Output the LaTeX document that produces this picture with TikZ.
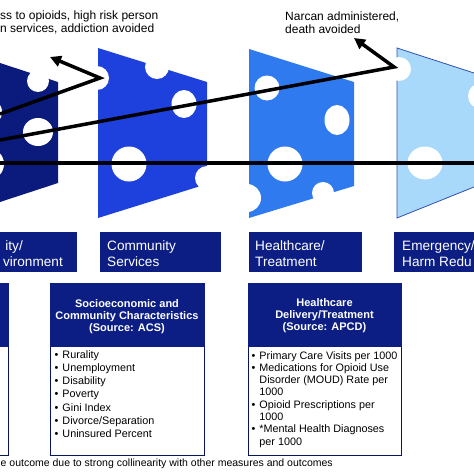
\documentclass[tikz,border=0pt]{standalone}
\usepackage{fontspec}
\setmainfont{Liberation Sans}
\usetikzlibrary{arrows.meta}
\definecolor{navy}{RGB}{12,30,132}
\definecolor{slicea}{RGB}{10,26,125}
\definecolor{sliceb}{RGB}{30,64,220}
\definecolor{slicec}{RGB}{48,122,240}
\definecolor{sliced}{RGB}{168,216,250}
\definecolor{sliceline}{RGB}{50,80,180}
\begin{document}
\begin{tikzpicture}[x=1pt,y=-1pt,
  hole/.style={fill=white},
  ray/.style={line width=3.5pt, line join=miter, draw=black},
  tip/.style={-{Triangle[length=11pt,width=11pt]}},
  labelbox/.style={fill=navy, anchor=north west, inner sep=0, outer sep=0, minimum height=40pt},
  labeltext/.style={inner sep=0, text=white, font=\fontsize{13.6}{16}\selectfont},
  headbox/.style={fill=navy, draw=navy, line width=1pt, anchor=north west, inner sep=0, minimum height=63pt},
  bodybox/.style={draw=navy!70!black, line width=1pt, fill=white, anchor=north west, inner sep=0, minimum height=172pt},
  headtext/.style={inner sep=0, text=white, font=\bfseries\fontsize{11}{12}\selectfont},
  listtext/.style={inner sep=0, anchor=base west},
  note/.style={inner sep=0, anchor=base west, font=\fontsize{12}{14}\selectfont}]
\useasboundingbox (0,0) rectangle (474,474);
\clip (0,0) rectangle (474,474);

% slices
\fill[slicea] (0,63) -- (58,82) -- (58,183) -- (0,202) -- cycle;
\fill[sliceb] (98,48) -- (207,82) -- (207,184) -- (98,218) -- cycle;
\fill[slicec] (249,49) -- (354,82) -- (354,186) -- (249,218) -- cycle;
\fill[sliced] (397,48) -- (474,73) -- (474,187) -- (397,218) -- cycle;
\draw[sliceline, line width=0.8pt] (474,73) -- (397,48) -- (397,218) -- (474,187);

% holes
\fill[hole] (38,81) circle[radius=11pt];
\fill[hole] (38,132) circle[x radius=15pt, y radius=14pt];
\fill[hole] (-12,112) circle[radius=14pt];
\fill[hole] (-12,164) circle[radius=16pt];
\fill[hole] (97,78) circle[radius=12pt];
\fill[hole] (157,67) circle[radius=12pt];
\fill[hole] (184,104) circle[x radius=12.5pt, y radius=14pt];
\fill[hole] (129,164) circle[radius=17.5pt];
\fill[hole] (207,178) circle[radius=12pt];
\fill[hole] (267,88) circle[radius=12.5pt];
\fill[hole] (337,120) circle[x radius=12.5pt, y radius=15pt];
\fill[hole] (285,164) circle[radius=17.5pt];
\fill[hole] (247,198) circle[radius=14pt];
\fill[hole] (323,193) circle[radius=11pt];
\fill[hole] (399,69) circle[radius=12pt];
\fill[hole] (481,96) circle[radius=13pt];
\fill[hole] (425,163) circle[x radius=17.5pt, y radius=16.5pt];

% trajectories
\coordinate (l1a) at (0,163);
\coordinate (l1b) at (474,163);
\coordinate (l2a) at (0,140);
\coordinate (l2v) at (394,67);
\coordinate (l2t) at (354,38);
\coordinate (l3a) at (0,114);
\coordinate (l3v) at (100,78);
\coordinate (l3t) at (50,57);
\draw[ray, line width=4pt] (l1a) -- (l1b);
\draw[ray, tip] (l2a) -- (l2v) -- (l2t);
\draw[ray, tip] (l3a) -- (l3v) -- (l3t);

% annotations
\node[note] (n1) at (0,19.5) {ss to opioids, high risk person};
\node[note] (n2) at (0,32.5) {n services, addiction avoided};
\node[note] (n3) at (285,20) {Narcan administered,};
\node[note] (n4) at (285,33) {death avoided};

% layer labels
\node[labelbox, minimum width=90pt] (lb1) at (-13,232) {};
\node[labelbox, minimum width=121pt] (lb2) at (100,232) {};
\node[labelbox, minimum width=113pt] (lb3) at (249,232) {};
\node[labelbox, minimum width=90pt] (lb4) at (394,232) {};
\node[labeltext, anchor=base east] (t1a) at (23,250) {ity/};
\node[labeltext, anchor=base east] (t1b) at (63,266) {vironment};
\node[labeltext, anchor=base west] (t2a) at (107,250) {Community};
\node[labeltext, anchor=base west] (t2b) at (107,266) {Services};
\node[labeltext, anchor=base west] (t3a) at (255,250) {Healthcare/};
\node[labeltext, anchor=base west] (t3b) at (255,266) {Treatment};
\node[labeltext, anchor=base west] (t4a) at (402,250) {Emergency/};
\node[labeltext, anchor=base west] (t4b) at (402,266) {Harm Redu};

% lower boxes
\node[bodybox, minimum width=30pt] (ba) at (-22,283) {};
\node[headbox, minimum width=30pt] (ha) at (-22,283) {};
\node[bodybox, minimum width=154pt] (bb) at (50,283) {};
\node[headbox, minimum width=154pt] (hb) at (50,283) {};
\node[bodybox, minimum width=153pt] (bc) at (248,283) {};
\node[headbox, minimum width=153pt] (hc) at (248,283) {};

\node[headtext, anchor=base] (hbt) at (127,307)
  {\begin{tabular}[t]{@{}c@{}}Socioeconomic and\\Community Characteristics\\(Source: ACS)\end{tabular}};
\node[headtext, anchor=base] (hct) at (324.5,306)
  {\begin{tabular}[t]{@{}c@{}}Healthcare\\Delivery/Treatment\\(Source: APCD)\end{tabular}};

\node[listtext, font=\fontsize{10.8}{13.3}\selectfont] (lbt) at (54.5,358)
  {\begin{tabular}[t]{@{}l@{\hspace{4pt}}l@{}}
  \textbullet & Rurality\\
  \textbullet & Unemployment\\
  \textbullet & Disability\\
  \textbullet & Poverty\\
  \textbullet & Gini Index\\
  \textbullet & Divorce/Separation\\
  \textbullet & Uninsured Percent
  \end{tabular}};
\node[listtext, font=\fontsize{10.8}{12.3}\selectfont] (lct) at (251.5,359)
  {\begin{tabular}[t]{@{}l@{\hspace{4pt}}l@{}}
  \textbullet & Primary Care Visits per 1000\\
  \textbullet & Medications for Opioid Use\\
   & Disorder (MOUD) Rate per\\
   & 1000\\
  \textbullet & Opioid Prescriptions per\\
   & 1000\\
  \textbullet & *Mental Health Diagnoses\\
   & per 1000
  \end{tabular}};

% footnote
\node[inner sep=0, anchor=base west, font=\fontsize{10.5}{12}\selectfont] (fn) at (0.5,466)
  {e outcome due to strong collinearity with other measures and outcomes};
\end{tikzpicture}
\end{document}
